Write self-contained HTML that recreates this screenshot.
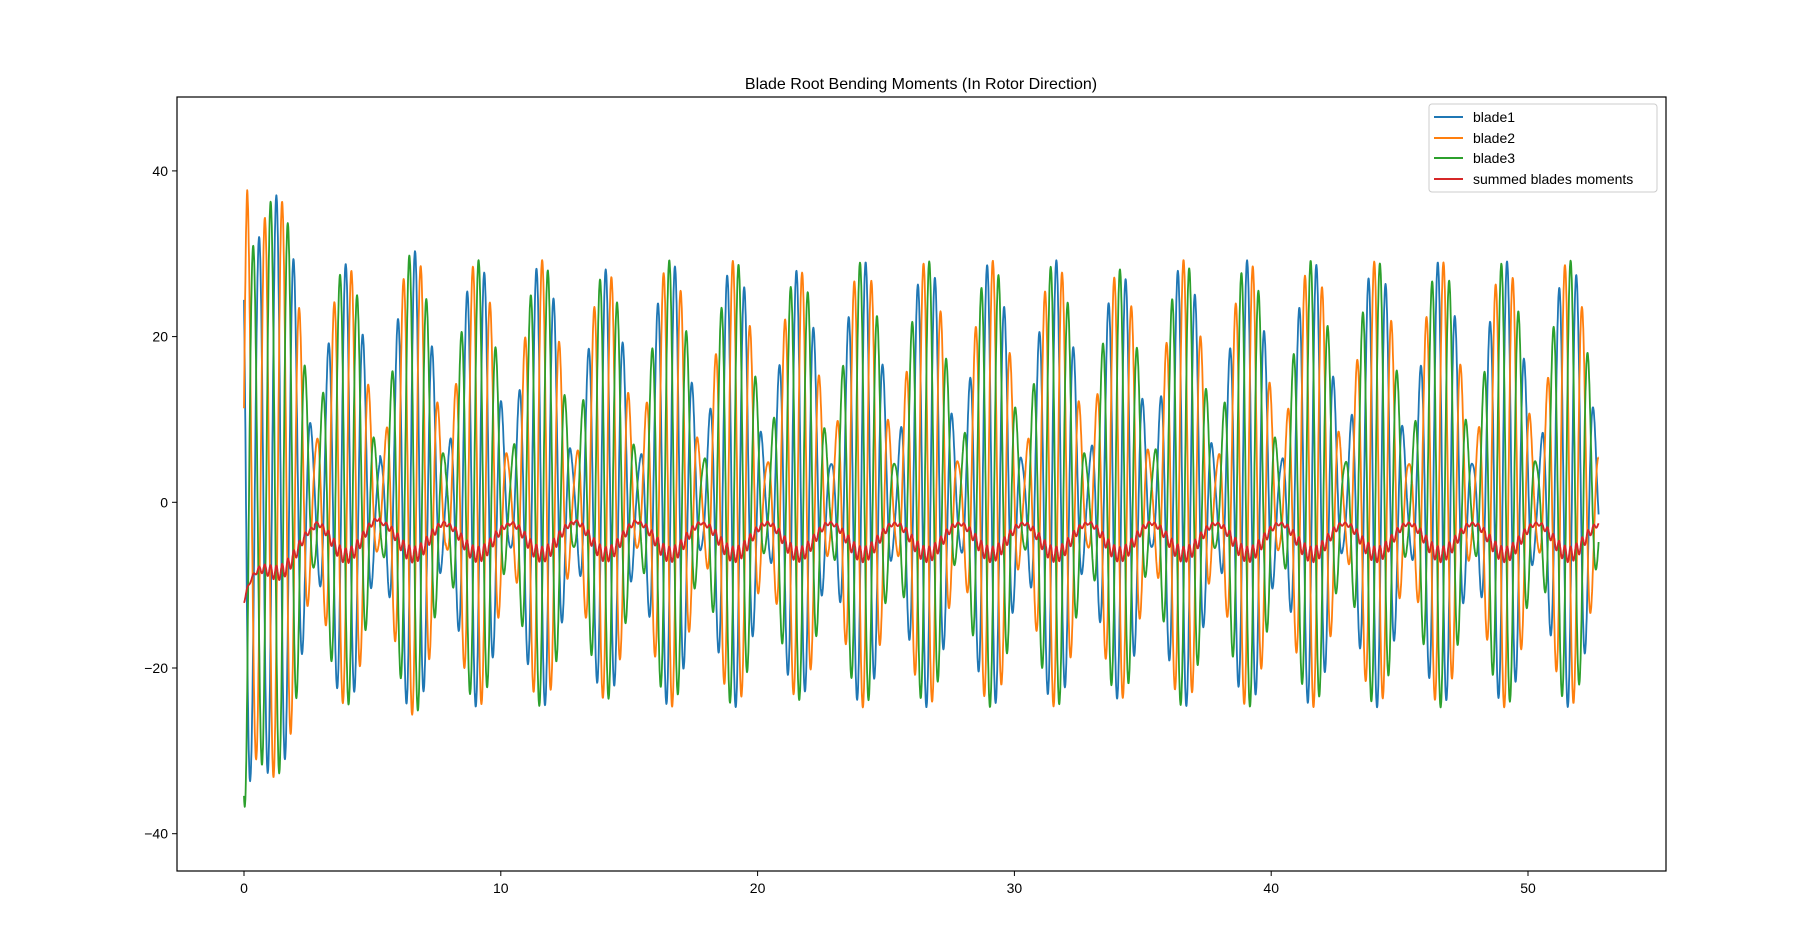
<!DOCTYPE html>
<html><head><meta charset="utf-8"><style>
html,body{margin:0;padding:0;background:#fff;}
svg{display:block;font-family:"Liberation Sans","DejaVu Sans",sans-serif;}
</style></head><body>
<svg id="chart" width="1811" height="948" viewBox="0 0 1811 948" xmlns="http://www.w3.org/2000/svg">
<rect x="0" y="0" width="1811" height="948" fill="#fff"/>
<defs><clipPath id="clip"><rect x="177" y="97" width="1489" height="774"/></clipPath></defs>
<text x="921" y="89" font-size="16" text-anchor="middle" fill="#000">Blade Root Bending Moments (In Rotor Direction)</text>
<g id="series" clip-path="url(#clip)"></g>
<rect x="177" y="97" width="1489" height="774" fill="none" stroke="#000" stroke-width="1.2"/>
<g id="axes"></g>
<g>
<rect x="1429" y="104" width="228" height="88" fill="#fff" fill-opacity="0.8" stroke="#ccc" rx="3"/>
<g><line x1="1434" y1="117" x2="1463" y2="117" stroke="#1f77b4" stroke-width="2"/><text x="1473" y="122" font-size="14">blade1</text></g>
<g><line x1="1434" y1="138" x2="1463" y2="138" stroke="#ff7f0e" stroke-width="2"/><text x="1473" y="143" font-size="14">blade2</text></g>
<g><line x1="1434" y1="158" x2="1463" y2="158" stroke="#2ca02c" stroke-width="2"/><text x="1473" y="163" font-size="14">blade3</text></g>
<g><line x1="1434" y1="179" x2="1463" y2="179" stroke="#d62728" stroke-width="2"/><text x="1473" y="184" font-size="14">summed blades moments</text></g>
</g>
</svg>
<script>
// Data
const xTicks = [0, 10, 20, 30, 40, 50];
const yTicks = [40, 20, 0, -20, -40];
// beat-cycle centres (s) where blade envelope is largest
const beatCenters = [1.5, 4.0, 6.6, 9.1, 11.6, 14.1, 16.6, 19.1, 21.6, 24.1, 26.6, 29.1, 31.6, 34.1, 36.6, 39.1, 41.6, 44.1, 46.6, 49.1, 51.6];
// envelope peak amplitude per beat cycle
const envPeak = [26, 26, 28, 27, 27, 26, 27, 27, 26, 27, 27, 27, 27, 26, 27, 27, 27, 27, 27, 27, 27];
// envelope minimum amplitude (between beats)
const envMin = [5, 5, 5.5, 5, 5, 5, 5, 5, 5, 5, 5, 5, 5, 5, 5, 5, 5, 5, 5, 5, 5];
// summed moment: high / low values per beat
const sumHigh = [-2.5, -2.0, -2.5, -2.7, -2.5, -2.3, -2.5, -2.6, -2.5, -2.6, -2.6, -2.6, -2.6, -2.5, -2.6, -2.6, -2.6, -2.6, -2.6, -2.6, -2.6];
const sumLow = [-6.3, -6.3, -6.3, -6.3, -6.3, -6.3, -6.3, -6.3, -6.3, -6.3, -6.3, -6.3, -6.3, -6.3, -6.3, -6.3, -6.3, -6.3, -6.3, -6.3, -6.3];
const carrierPeriod = 0.675;
const beatPeriod = 2.5;
const tEnd = 52.75;
const transientAmp = 36, transientTau = 1.0, sumTransient = -9;

const X0 = 244, XS = 25.68, Y0 = 502.3, YS = 8.285;
function xs(v){return X0 + v*XS;}
function ys(v){return Y0 - v*YS;}

const NS = "http://www.w3.org/2000/svg";
const axes = document.getElementById('axes');
xTicks.forEach(v=>{
  const l=document.createElementNS(NS,'line');
  
  
  l.setAttribute('x1',xs(v));l.setAttribute('x2',xs(v));l.setAttribute('y1',871);l.setAttribute('y2',876);l.setAttribute('stroke','#000');
  axes.appendChild(l);
  const t=document.createElementNS(NS,'text');
  
  
  t.setAttribute('x',xs(v));t.setAttribute('y',893);t.setAttribute('font-size','14');t.setAttribute('text-anchor','middle');
  t.textContent=v; axes.appendChild(t);
});
yTicks.forEach(v=>{
  const l=document.createElementNS(NS,'line');
  
  
  l.setAttribute('x1',172);l.setAttribute('x2',177);l.setAttribute('y1',ys(v));l.setAttribute('y2',ys(v));l.setAttribute('stroke','#000');
  axes.appendChild(l);
  const t=document.createElementNS(NS,'text');
  
  
  t.setAttribute('x',168);t.setAttribute('y',ys(v)+5);t.setAttribute('font-size','14');t.setAttribute('text-anchor','end');
  t.textContent=(v<0?'\u2212'+(-v):v); axes.appendChild(t);
});

function beatIndex(t){
  let best=0,bd=1e9;
  beatCenters.forEach((c,i)=>{const d=Math.abs(t-c); if(d<bd){bd=d;best=i;}});
  return best;
}
function envelope(t){
  const i=beatIndex(t);
  const c=beatCenters[i];
  const a=(envPeak[i]+envMin[i])/2, b=(envPeak[i]-envMin[i])/2;
  const ph=2*Math.PI*(t-c)/beatPeriod;
  return Math.sqrt(a*a+b*b+2*a*b*Math.cos(ph));
}
const wc=2*Math.PI/carrierPeriod;
const peakRef=6.66;
const shifts=[0, -1/3, 1/3];
const N=6000;
const g=document.getElementById('series');
const pts=[[],[],[],[]];
for(let n=0;n<=N;n++){
  const t=tEnd*n/N;
  const ramp=Math.min(1,0.75+t*2);
  let A=envelope(t)+transientAmp*Math.exp(-t/transientTau)*ramp;
  const off=-1+0.12*envelope(t);
  for(let k=0;k<3;k++){
    const v=off+A*Math.cos(wc*(t-peakRef)+2*Math.PI*shifts[k]);
    pts[k].push(xs(t).toFixed(1)+','+ys(v).toFixed(1));
  }
  const i=beatIndex(t);
  const mid=(sumHigh[i]+sumLow[i])/2, amp=(sumHigh[i]-sumLow[i])/2;
  let r=mid-amp*Math.cos(2*Math.PI*(t-beatCenters[i])/beatPeriod)+0.035*envelope(t)*Math.cos(3*wc*(t-peakRef))+sumTransient*Math.exp(-t/transientTau);
  pts[3].push(xs(t).toFixed(1)+','+ys(r).toFixed(1));
}
const names=['line-blade1','line-blade2','line-blade3','line-summed'];
const cols=['#1f77b4','#ff7f0e','#2ca02c','#d62728'];
for(let k=0;k<4;k++){
  const p=document.createElementNS(NS,'polyline');
  
  
  p.setAttribute('points',pts[k].join(' '));
  p.setAttribute('fill','none');p.setAttribute('stroke',cols[k]);p.setAttribute('stroke-width','1.8');p.setAttribute('stroke-linejoin','round');
  g.appendChild(p);
}
</script>
</body></html>
